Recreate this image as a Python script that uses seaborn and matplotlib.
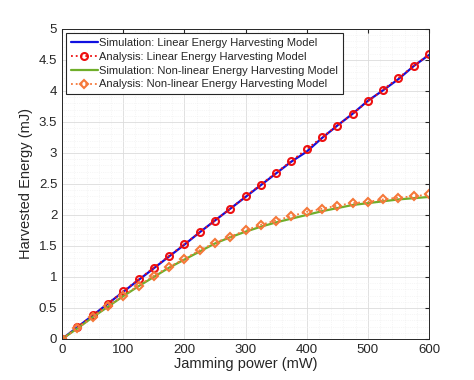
import matplotlib
matplotlib.use("Agg")
import matplotlib.pyplot as plt
import seaborn as sns
from matplotlib.ticker import MultipleLocator, StrMethodFormatter

sns.set_style("whitegrid")
plt.rcParams['font.family'] = ['Liberation Sans', 'DejaVu Sans']

power = [0, 25, 50, 75, 100, 125, 150, 175, 200, 225, 250, 275, 300,
         325, 350, 375, 400, 425, 450, 475, 500, 525, 550, 575, 600]

sim_linear = [0, 0.19, 0.38, 0.57, 0.76, 0.95, 1.14, 1.33, 1.52, 1.72, 1.91, 2.10, 2.29,
              2.48, 2.67, 2.86, 3.02, 3.24, 3.44, 3.63, 3.84, 4.01, 4.19, 4.40, 4.58]
ana_linear = [0, 0.19, 0.38, 0.57, 0.77, 0.96, 1.15, 1.34, 1.53, 1.72, 1.91, 2.10, 2.30,
              2.49, 2.68, 2.87, 3.06, 3.25, 3.44, 3.63, 3.83, 4.02, 4.21, 4.40, 4.59]
sim_nonlinear = [0, 0.17, 0.35, 0.52, 0.69, 0.85, 1.00, 1.15, 1.28, 1.41, 1.54, 1.64, 1.73,
                 1.81, 1.88, 1.94, 2.00, 2.06, 2.11, 2.16, 2.19, 2.22, 2.25, 2.27, 2.29]
ana_nonlinear = [0, 0.17, 0.35, 0.53, 0.70, 0.86, 1.02, 1.16, 1.29, 1.43, 1.55, 1.65, 1.75,
                 1.84, 1.91, 1.98, 2.05, 2.10, 2.15, 2.19, 2.21, 2.25, 2.28, 2.30, 2.33]

fig = plt.figure(figsize=(4.74, 3.8), dpi=100)
ax = fig.add_axes([0.131, 0.108, 0.774, 0.816])

sns.lineplot(x=power, y=sim_linear, ax=ax, color='#1010e0', lw=1.6,
             label='Simulation: Linear Energy Harvesting Model')
sns.lineplot(x=power, y=ana_linear, ax=ax, color='#ee1010', lw=1.3, linestyle=':',
             marker='o', markersize=5, markerfacecolor='none', markeredgewidth=1.5,
             markeredgecolor='#ee1010',
             label='Analysis: Linear Energy Harvesting Model')
sns.lineplot(x=power, y=sim_nonlinear, ax=ax, color='#6fae2a', lw=1.6,
             label='Simulation: Non-linear Energy Harvesting Model')
sns.lineplot(x=power, y=ana_nonlinear, ax=ax, color='#f5783a', lw=1.3, linestyle=':',
             marker='D', markersize=4.3, markerfacecolor='none', markeredgewidth=1.5,
             markeredgecolor='#f5783a',
             label='Analysis: Non-linear Energy Harvesting Model')

ax.set_xlim(0, 600)
ax.set_ylim(0, 5)
ax.xaxis.set_major_locator(MultipleLocator(100))
ax.yaxis.set_major_locator(MultipleLocator(0.5))
ax.yaxis.set_major_formatter(StrMethodFormatter('{x:g}'))
ax.xaxis.set_minor_locator(MultipleLocator(20))
ax.yaxis.set_minor_locator(MultipleLocator(0.1))
ax.grid(which='major', color='#dcdcdc', lw=0.6)
ax.grid(which='minor', color='#eeeeee', lw=0.5, linestyle=':')
ax.tick_params(which='both', direction='in', top=True, right=True, labelsize=9.5,
               colors='#262626', length=3)
ax.tick_params(which='minor', length=0)
for s in ax.spines.values():
    s.set_color('#262626')
    s.set_linewidth(0.7)
ax.set_xlabel('Jamming power (mW)', fontsize=10.5, color='#262626', labelpad=1)
ax.set_ylabel('Harvested Energy (mJ)', fontsize=10.5, color='#262626', labelpad=4)

leg = ax.legend(loc='upper left', fontsize=8, frameon=True, fancybox=False,
                borderpad=0.45, labelspacing=0.35, handlelength=2.4, handletextpad=0.15,
                borderaxespad=0.35)
leg.get_frame().set_edgecolor('#262626')
leg.get_frame().set_linewidth(0.8)
leg.get_frame().set_alpha(1)

fig.savefig('out.png', dpi=100)
